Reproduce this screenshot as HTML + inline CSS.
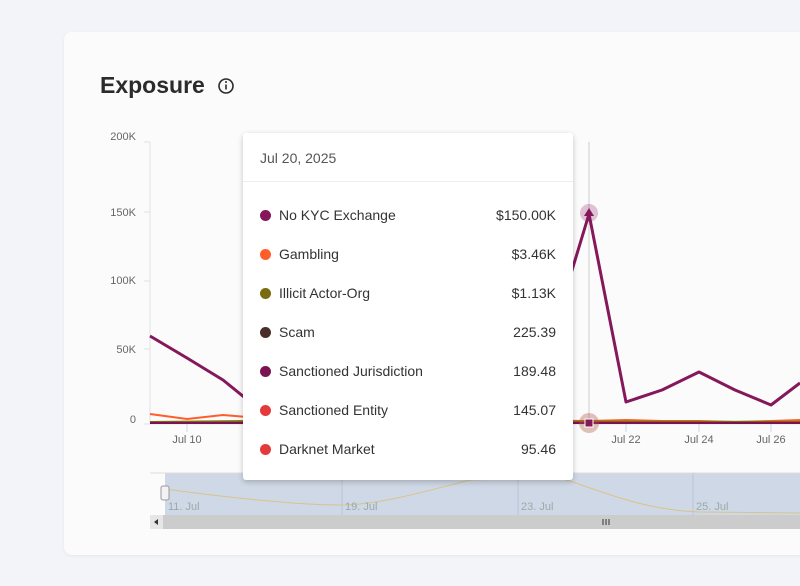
<!DOCTYPE html>
<html><head><meta charset="utf-8"><style>
body{margin:0;width:800px;height:586px;background:#f3f4f9;font-family:"Liberation Sans",sans-serif;overflow:hidden;position:relative}
.card{position:absolute;left:64px;top:32px;width:760px;height:523px;background:#fbfbfb;border-radius:8px;box-shadow:0 1px 3px rgba(0,0,0,.06)}
.title{position:absolute;left:100px;top:72px;font-size:23px;font-weight:bold;color:#2b2b2b}
.tt{position:absolute;left:243px;top:133px;width:330px;height:347px;background:#fff;border-radius:3px;box-shadow:0 2px 6px rgba(0,0,0,.22)}
.tt .h{height:48px;border-bottom:1px solid #eee;font-size:14px;color:#555;line-height:50px;padding-left:17px}
.row{position:absolute;left:17px;right:17px;font-size:14px;color:#333}
.row i{display:inline-block;width:11px;height:11px;border-radius:50%;margin-right:8px;vertical-align:-1px}
.row span{position:absolute;right:0}
</style></head><body>
<div class="card"></div>
<div class="title">Exposure</div>
<svg style="position:absolute;left:0;top:0" width="800" height="586">
<circle cx="226" cy="86" r="7" fill="none" stroke="#2b2b2b" stroke-width="1.6"/>
<rect x="225.2" y="84.5" width="1.6" height="5" fill="#2b2b2b"/><circle cx="226" cy="82" r="1" fill="#2b2b2b"/>
<g font-size="11" fill="#666" text-anchor="end">
<text x="136" y="140">200K</text><text x="136" y="216">150K</text><text x="136" y="284">100K</text><text x="136" y="353">50K</text><text x="136" y="423">0</text></g>
<line x1="150" y1="142" x2="150" y2="424" stroke="#e0e0e0"/>
<line x1="144" y1="142" x2="150" y2="142" stroke="#e0e0e0"/>
<line x1="144" y1="212" x2="150" y2="212" stroke="#e0e0e0"/>
<line x1="144" y1="281" x2="150" y2="281" stroke="#e0e0e0"/>
<line x1="144" y1="349" x2="150" y2="349" stroke="#e0e0e0"/>
<line x1="144" y1="424" x2="800" y2="424" stroke="#e0e0e0"/>
<line x1="589" y1="142" x2="589" y2="424" stroke="#ccc"/>
<g stroke="#ccd6eb"><line x1="187" y1="424" x2="187" y2="432"/><line x1="626" y1="424" x2="626" y2="432"/><line x1="699" y1="424" x2="699" y2="432"/><line x1="771" y1="424" x2="771" y2="432"/></g>
<g font-size="11" fill="#666" text-anchor="middle"><text x="187" y="443">Jul 10</text><text x="626" y="443">Jul 22</text><text x="699" y="443">Jul 24</text><text x="771" y="443">Jul 26</text></g>
<polyline points="150,414 187,419 223,415 260,418 589,421 626,420 662,421 699,421 735,422 771,421 800,420" fill="none" stroke="#ff5e2b" stroke-width="2"/>
<polyline points="150,422 260,421 800,422" fill="none" stroke="#7a6a10" stroke-width="2"/>
<polyline points="150,423 800,423" fill="none" stroke="#7b1353" stroke-width="2"/>
<polyline points="150,336 187,358 223,380 260,410 560,310 589,214 626,402 662,390 699,372 735,390 771,405 800,383" fill="none" stroke="#85185a" stroke-width="3" stroke-linejoin="round"/>
<circle cx="589" cy="213" r="9" fill="#85185a" opacity=".25"/>
<polygon points="589,208 594,216 584,216" fill="#85185a"/>
<circle cx="589" cy="423" r="10" fill="#b0503c" opacity=".35"/>
<rect x="585" y="419" width="8" height="8" fill="#85185a" stroke="#fff"/>
<rect x="150" y="473" width="650" height="42" fill="#fbfbfb"/>
<rect x="165" y="473" width="635" height="42" fill="#cfd8e6"/>
<line x1="150" y1="473" x2="800" y2="473" stroke="#ddd"/>
<g stroke="#bbc5d6"><line x1="342" y1="473" x2="342" y2="515"/><line x1="518" y1="473" x2="518" y2="515"/><line x1="693" y1="473" x2="693" y2="515"/></g>
<path d="M165,489 C230,498 300,505 340,505 S430,490 470,480 L560,478 C600,490 640,510 700,512 L800,513" fill="none" stroke="#d8c48a" stroke-width="1"/>
<g font-size="11" fill="#9aa" ><text x="168" y="510">11. Jul</text><text x="345" y="510">19. Jul</text><text x="521" y="510">23. Jul</text><text x="696" y="510">25. Jul</text></g>
<rect x="161" y="486" width="8" height="14" rx="2" fill="#f2f2f2" stroke="#999"/>
<rect x="150" y="515" width="650" height="14" fill="#cccccc"/>
<rect x="150" y="515" width="13" height="14" fill="#e6e6e6"/>
<polygon points="158,519 158,525 154,522" fill="#333"/>
<g stroke="#333"><line x1="603" y1="519" x2="603" y2="525"/><line x1="606" y1="519" x2="606" y2="525"/><line x1="609" y1="519" x2="609" y2="525"/></g>
</svg>
<div class="tt"><div class="h">Jul 20, 2025</div>
<div class="row" style="top:74px"><i style="background:#85185a"></i>No KYC Exchange<span>$150.00K</span></div>
<div class="row" style="top:113px"><i style="background:#ff5e2b"></i>Gambling<span>$3.46K</span></div>
<div class="row" style="top:152px"><i style="background:#7a6a10"></i>Illicit Actor-Org<span>$1.13K</span></div>
<div class="row" style="top:191px"><i style="background:#4a2e28"></i>Scam<span>225.39</span></div>
<div class="row" style="top:230px"><i style="background:#7b1353"></i>Sanctioned Jurisdiction<span>189.48</span></div>
<div class="row" style="top:269px"><i style="background:#e33b3b"></i>Sanctioned Entity<span>145.07</span></div>
<div class="row" style="top:308px"><i style="background:#e33b3b"></i>Darknet Market<span>95.46</span></div>
</div>
</body></html>
